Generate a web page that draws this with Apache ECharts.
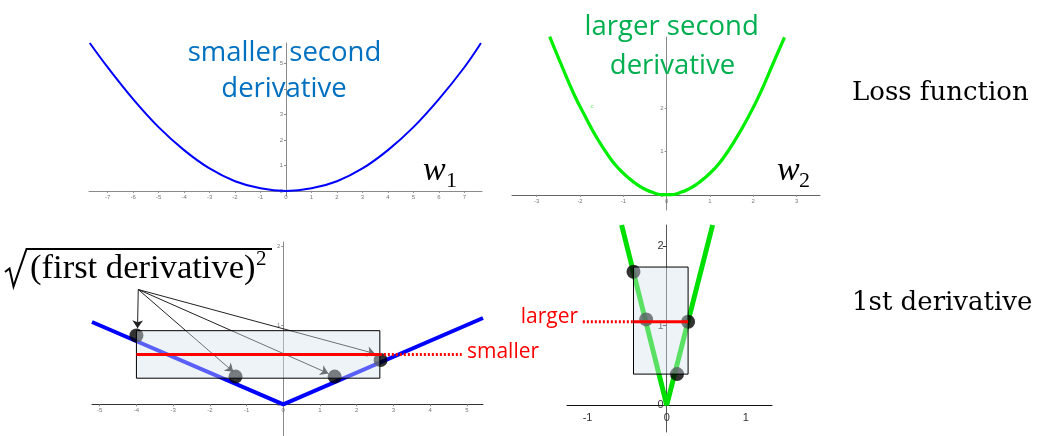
<!DOCTYPE html>
<html>
<head>
<meta charset="utf-8">
<script src="https://cdn.jsdelivr.net/npm/echarts@6/dist/echarts.min.js"></script>
<style>
  html, body { margin: 0; padding: 0; background: #fff; }
  #chart { width: 1051px; height: 436px; }
</style>
</head>
<body>
<div id="chart"></div>
<script>
// loss curves
var lossW1X = [-7.7, -7, -6, -5, -4, -3, -2, -1, 0, 1, 2, 3, 4, 5, 6, 7, 7.65]
var lossW1Y = [5.8, 4.85, 3.6, 2.5, 1.6, 0.88, 0.38, 0.1, 0, 0.1, 0.38, 0.88, 1.6, 2.5, 3.6, 4.85, 5.8]
var lossW2X = [-2.7, -2.45, -2.15, -1.9, -1.6, -1.3, -1.1, -0.9, -0.7, -0.5, -0.3, -0.1, 0.1, 0.3, 0.5, 0.7, 0.9, 1.1, 1.3, 1.6, 1.9, 2.15, 2.45, 2.72]
var lossW2Y = [3.66, 3.05, 2.35, 1.85, 1.3, 0.84, 0.6, 0.41, 0.25, 0.13, 0.05, 0.005, 0.005, 0.05, 0.13, 0.25, 0.41, 0.6, 0.84, 1.3, 1.83, 2.33, 3.02, 3.64]

// |first derivative|
var derivW1X = [-5.21, 0, 5.44]
var derivW1Y = [1.04, 0, 1.09]
var derivW2X = [-0.57, 0, 0.58]
var derivW2Y = [2.27, 0, 2.27]

// sampled points on the derivative
var ptsW1X = [-4, -1.3, 1.4, 2.65]
var ptsW1Y = [0.87, 0.35, 0.35, 0.56]
var ptsW2X = [-0.42, -0.26, 0.27, 0.13]
var ptsW2Y = [1.68, 1.08, 1.05, 0.39]

// range boxes: xmin, ymin, xmax, ymax
var boxW1 = [-4, 0.33, 2.63, 0.93]
var boxW2 = [-0.42, 0.39, 0.27, 1.74]

// red level lines
var levelW1 = 0.63
var solidW1X = [-4, 2.63]
var dottedW1X = [2.63, 4.86]
var levelW2 = 1.05
var solidW2X = [-0.42, 0.27]
var dottedW2X = [-1.06, -0.42]

// arrows from the sqrt label
var arrowFrom = [-3.95, 1.45]
var arrowToX = [-3.97, -1.36, 1.23, 2.5]
var arrowToY = [0.96, 0.41, 0.39, 0.64]

// tick labels
var ticksW1X = [-7, -6, -5, -4, -3, -2, -1, 0, 1, 2, 3, 4, 5, 6, 7]
var ticksW1Y = [0, 1, 2, 3, 4, 5]
var ticksW2X = [-3, -2, -1, 0, 1, 2, 3]
var ticksW2Y = [0, 1, 2]
var ticksD1X = [-5, -4, -3, -2, -1, 0, 1, 2, 3, 4, 5]
var ticksD1Y = [0, 1, 2]
var ticksD2X = [-1, 0, 1]
var ticksD2Y = [0, 1, 2]

// grid boxes and axis ranges
var grids = [
  { left: 89, top: 43, width: 393, height: 153, x: [-7.73, 7.69], y: [-0.2, 5.8], axis: '#8a8a8a' },
  { left: 512, top: 37, width: 308, height: 173, x: [-3.57, 3.54], y: [-0.35, 3.65], axis: '#666' },
  { left: 92, top: 242, width: 391, height: 194, x: [-5.21, 5.44], y: [-0.4, 2.05], axis: '#333' },
  { left: 567, top: 225, width: 205, height: 207, x: [-1.26, 1.33], y: [-0.34, 2.27], axis: '#111' }
]

function pairs(xs, ys) {
  return xs.map(function(x, i) { return [x, Array.isArray(ys) ? ys[i] : ys] })
}

// axes crossing at zero: shift each axis from the grid edge to the zero line
function xAxisAt(i, ticks, big) {
  var g = grids[i]
  var shift = -(0 - g.y[0]) / (g.y[1] - g.y[0]) * g.height
  return {
    type: 'value', gridIndex: i, min: g.x[0], max: g.x[1], offset: shift,
    splitLine: { show: false },
    axisLine: { onZero: false, lineStyle: { color: g.axis, width: 1 } },
    axisTick: { show: !big, length: 2, customValues: ticks, lineStyle: { color: '#888' } },
    axisLabel: { customValues: ticks, fontSize: big ? 11 : 6, color: big ? '#333' : '#777', margin: big ? 7 : 3, fontFamily: 'Liberation Sans' }
  }
}
function yAxisAt(i, ticks, big) {
  var g = grids[i]
  var shift = -(0 - g.x[0]) / (g.x[1] - g.x[0]) * g.width
  return {
    type: 'value', gridIndex: i, min: g.y[0], max: g.y[1], offset: shift,
    splitLine: { show: false },
    axisLine: { show: true, onZero: false, lineStyle: { color: big ? '#555' : '#8a8a8a', width: 1 } },
    axisTick: { show: true, length: big ? 4 : 2, customValues: ticks, lineStyle: { color: big ? '#333' : '#888' } },
    axisLabel: { customValues: ticks, fontSize: big ? 11 : 6, color: big ? '#333' : '#777', margin: 3, fontFamily: 'Liberation Sans' }
  }
}

function boxItem(params, api) {
  var p0 = api.coord([api.value(0), api.value(3)])
  var p1 = api.coord([api.value(2), api.value(1)])
  return {
    type: 'rect',
    shape: { x: p0[0], y: p0[1], width: p1[0] - p0[0], height: p1[1] - p0[1] },
    style: { fill: 'rgba(214,226,238,0.42)', stroke: '#000', lineWidth: 1 }
  }
}

var chart = echarts.init(document.getElementById('chart'))
chart.setOption({
  animation: false,
  backgroundColor: '#fff',
  grid: grids.map(function(g) {
    return { left: g.left, top: g.top, width: g.width, height: g.height, outerBoundsMode: 'none', containLabel: false }
  }),
  xAxis: [
    xAxisAt(0, ticksW1X), xAxisAt(1, ticksW2X), xAxisAt(2, ticksD1X), xAxisAt(3, ticksD2X, true)
  ],
  yAxis: [
    yAxisAt(0, ticksW1Y), yAxisAt(1, ticksW2Y), yAxisAt(2, ticksD1Y), yAxisAt(3, ticksD2Y, true)
  ],
  series: [
    {
      type: 'line', xAxisIndex: 0, yAxisIndex: 0, smooth: 0.4, symbol: 'none', z: 2,
      lineStyle: { color: '#0000ff', width: 2 },
      data: pairs(lossW1X, lossW1Y)
    },
    {
      type: 'line', xAxisIndex: 1, yAxisIndex: 1, smooth: 0.5, symbol: 'none', z: 2,
      lineStyle: { color: '#00ee00', width: 3.2 },
      data: pairs(lossW2X, lossW2Y)
    },
    {
      type: 'line', xAxisIndex: 2, yAxisIndex: 2, symbol: 'none', z: 2,
      lineStyle: { color: '#0000ff', width: 4 },
      data: pairs(derivW1X, derivW1Y)
    },
    {
      type: 'line', xAxisIndex: 3, yAxisIndex: 3, symbol: 'none', z: 2,
      lineStyle: { color: '#00e000', width: 5 },
      data: pairs(derivW2X, derivW2Y)
    },
    {
      type: 'scatter', xAxisIndex: 2, yAxisIndex: 2, symbolSize: 14, z: 3,
      itemStyle: { color: '#000' },
      data: pairs(ptsW1X, ptsW1Y)
    },
    {
      type: 'scatter', xAxisIndex: 3, yAxisIndex: 3, symbolSize: 14, z: 3,
      itemStyle: { color: '#000' },
      data: pairs(ptsW2X, ptsW2Y)
    },
    {
      type: 'lines', coordinateSystem: 'cartesian2d', xAxisIndex: 2, yAxisIndex: 2, z: 3,
      symbol: ['none', 'arrow'], symbolSize: 8,
      lineStyle: { color: '#222', width: 1, opacity: 1 },
      data: arrowToX.map(function(x, i) {
        return { coords: [arrowFrom, [x, arrowToY[i]]] }
      })
    },
    { type: 'custom', xAxisIndex: 2, yAxisIndex: 2, z: 4, renderItem: boxItem, data: [boxW1] },
    { type: 'custom', xAxisIndex: 3, yAxisIndex: 3, z: 4, renderItem: boxItem, data: [boxW2] },
    {
      type: 'line', xAxisIndex: 2, yAxisIndex: 2, symbol: 'none', z: 5,
      lineStyle: { color: '#ff0000', width: 3 },
      data: pairs(solidW1X, levelW1)
    },
    {
      type: 'line', xAxisIndex: 2, yAxisIndex: 2, symbol: 'none', z: 5,
      lineStyle: { color: '#ff0000', width: 3, type: [2, 2] },
      data: pairs(dottedW1X, levelW1)
    },
    {
      type: 'line', xAxisIndex: 3, yAxisIndex: 3, symbol: 'none', z: 5,
      lineStyle: { color: '#ff0000', width: 3 },
      data: pairs(solidW2X, levelW2)
    },
    {
      type: 'line', xAxisIndex: 3, yAxisIndex: 3, symbol: 'none', z: 5,
      lineStyle: { color: '#ff0000', width: 3, type: [2, 2] },
      data: pairs(dottedW2X, levelW2)
    }
  ],
  graphic: [
    { type: 'text', x: 284.5, y: 53, z: 10, style: { text: 'smaller second', fill: '#0070C0', font: '27.5px "Open Sans"', textAlign: 'center', textVerticalAlign: 'middle' } },
    { type: 'text', x: 284, y: 89, z: 10, style: { text: 'derivative', fill: '#0070C0', font: '27.5px "Open Sans"', textAlign: 'center', textVerticalAlign: 'middle' } },
    { type: 'text', x: 671.7, y: 27.5, z: 10, style: { text: 'larger second', fill: '#00B050', font: '27.5px "Open Sans"', textAlign: 'center', textVerticalAlign: 'middle' } },
    { type: 'text', x: 672.5, y: 66, z: 10, style: { text: 'derivative', fill: '#00B050', font: '27.5px "Open Sans"', textAlign: 'center', textVerticalAlign: 'middle' } },
    { type: 'text', x: 592, y: 106, z: 10, style: { text: 'c', fill: '#66ee66', font: '6px "Liberation Sans"', textAlign: 'center', textVerticalAlign: 'middle' } },
    // w1, w2
    { type: 'text', x: 423, y: 171, z: 10, style: { text: 'w', fill: '#000', font: 'italic 34px "Liberation Serif"', textVerticalAlign: 'middle' } },
    { type: 'text', x: 446, y: 181, z: 10, style: { text: '1', fill: '#000', font: '22px "Liberation Serif"', textVerticalAlign: 'middle' } },
    { type: 'text', x: 777, y: 171, z: 10, style: { text: 'w', fill: '#000', font: 'italic 34px "Liberation Serif"', textVerticalAlign: 'middle' } },
    { type: 'text', x: 799, y: 181, z: 10, style: { text: '2', fill: '#000', font: '22px "Liberation Serif"', textVerticalAlign: 'middle' } },
    // row labels
    { type: 'text', x: 852, y: 93.5, z: 10, style: { text: 'Loss function', fill: '#000', font: '26px "DejaVu Serif"', textVerticalAlign: 'middle' } },
    { type: 'text', x: 852, y: 303.5, z: 10, style: { text: '1st derivative', fill: '#000', font: '26px "DejaVu Serif"', textVerticalAlign: 'middle' } },
    // sqrt((first derivative)^2)
    { type: 'polyline', z: 10, shape: { points: [[5, 272], [9.5, 268.5], [13.5, 286.5], [26.5, 249], [272, 249]] }, style: { stroke: '#000', lineWidth: 2, fill: null } },
    { type: 'text', x: 30, y: 268.7, z: 10, style: { text: '(first derivative)', fill: '#000', font: '34.6px "Liberation Serif"', textVerticalAlign: 'middle' } },
    { type: 'text', x: 256, y: 259, z: 10, style: { text: '2', fill: '#000', font: '21px "Liberation Serif"', textVerticalAlign: 'middle' } },
    // red labels
    { type: 'text', x: 467, y: 352.5, z: 10, style: { text: 'smaller', fill: '#ff0000', font: '21px "Open Sans"', textVerticalAlign: 'middle' } },
    { type: 'text', x: 578, y: 317.5, z: 10, style: { text: 'larger', fill: '#ff0000', font: '21px "Open Sans"', textAlign: 'right', textVerticalAlign: 'middle' } }
  ]
})
</script>
</body>
</html>
